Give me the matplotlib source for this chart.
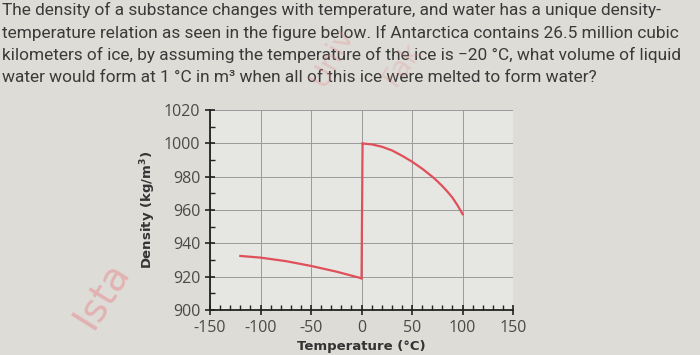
import matplotlib
matplotlib.use("Agg")
import matplotlib.pyplot as plt
from matplotlib.ticker import MultipleLocator

plt.rcParams["axes.unicode_minus"] = False

# Data
ice_temp = [-120, -100, -75, -50, -25, 0]
ice_density = [932.4, 931.4, 929.3, 926.4, 923.0, 919.0]
jump_temp = [0, 1]
jump_density = [919.0, 999.9]
water_temp = [1, 10, 20, 30, 40, 50, 60, 70, 75, 80, 85, 90, 95, 100]
water_density = [999.9, 999.4, 998.0, 995.8, 992.6, 989.0, 984.8, 980.0, 977.3, 974.3, 971.0, 967.4, 962.8, 957.5]

x_ticks = [-150, -100, -50, 0, 50, 100, 150]
y_ticks = [900, 920, 940, 960, 980, 1000, 1020]

question = ("The density of a substance changes with temperature, and water has a unique density-\n"
            "temperature relation as seen in the figure below. If Antarctica contains 26.5 million cubic\n"
            "kilometers of ice, by assuming the temperature of the ice is \u221220 \u00b0C, what volume of liquid\n"
            "water would form at 1 \u00b0C in m\u00b3 when all of this ice were melted to form water?")

bg = "#dddcd6"
fig = plt.figure(figsize=(7.0, 3.55), dpi=100, facecolor=bg)

fig.text(0.003, 0.995, question, ha="left", va="top", fontsize=12.4,
         family="Roboto", color="#3a3a3a", linespacing=1.52)

ax = fig.add_axes([0.300, 0.127, 0.433, 0.563])
ax.set_facecolor("#e6e6e2")
line_color = "#e0505a"
ax.plot(ice_temp, ice_density, color=line_color, lw=1.6)
ax.plot(jump_temp, jump_density, color=line_color, lw=1.6)
ax.plot(water_temp, water_density, color=line_color, lw=1.6)

ax.set_xlim(-150, 150)
ax.set_ylim(900, 1020)
ax.set_xticks(x_ticks)
ax.set_yticks(y_ticks)
ax.xaxis.set_minor_locator(MultipleLocator(10))
ax.yaxis.set_minor_locator(MultipleLocator(10))
ax.grid(True, which="major", color="#9a9a9a", lw=0.7)
for s in ["top", "right"]:
    ax.spines[s].set_visible(False)
for s in ["left", "bottom"]:
    ax.spines[s].set_color("#222222")
    ax.spines[s].set_linewidth(1.3)
ax.tick_params(which="major", direction="inout", length=7, width=1.2,
               color="#222222", labelcolor="#4a4a4a", labelsize=11.5)
ax.tick_params(which="minor", direction="in", length=3.5, width=1.0, color="#222222")
for lab in ax.get_xticklabels() + ax.get_yticklabels():
    lab.set_family("Open Sans")
ax.set_xlabel("Temperature (\u00b0C)", fontsize=9.5, fontweight="bold", color="#333333", labelpad=3)
ax.set_ylabel("Density (kg/m$^\\mathbf{3}$)", fontsize=9.5, fontweight="bold", color="#333333", labelpad=4)

# pink watermark fragments
wm = "#e88890"
fig.text(0.145, 0.17, "Ista", rotation=58, fontsize=28, color=wm, alpha=0.5,
         ha="center", va="center", family="DejaVu Sans")
fig.text(0.475, 0.84, "Univ", rotation=62, fontsize=20, color=wm, alpha=0.3,
         ha="center", va="center")
fig.text(0.575, 0.82, "Fak", rotation=55, fontsize=20, color=wm, alpha=0.25,
         ha="center", va="center")

fig.savefig("out.png", dpi=100, facecolor=bg)
